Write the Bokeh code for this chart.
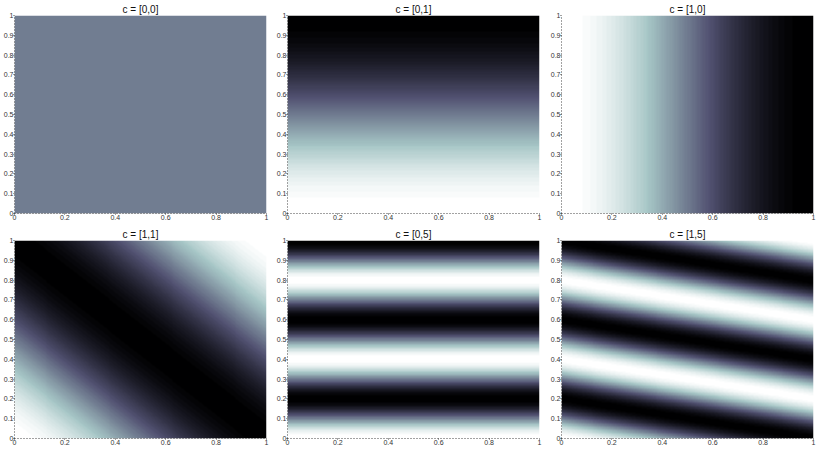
import numpy as np
from bokeh.plotting import figure
from bokeh.layouts import gridplot
from bokeh.models import LinearColorMapper, FixedTicker
from bokeh.embed import file_html
from bokeh.resources import INLINE

# ---- data ----
titles = ["c = [0,0]", "c = [0,1]", "c = [1,0]", "c = [1,1]", "c = [0,5]", "c = [1,5]"]
cx = [0, 0, 1, 1, 0, 1]
cy = [0, 1, 0, 1, 5, 5]
x_ticks = [0, 0.2, 0.4, 0.6, 0.8, 1]
x_labels = ["0", "0.2", "0.4", "0.6", "0.8", "1"]
y_ticks = [0, 0.1, 0.2, 0.3, 0.4, 0.5, 0.6, 0.7, 0.8, 0.9, 1]
y_labels = ["0", "0.1", "0.2", "0.3", "0.4", "0.5", "0.6", "0.7", "0.8", "0.9", "1"]
grid_n = 256


def bone_palette(m=64):
    n = int(3 * m / 8)
    cols = []
    for i in range(m):
        g = i / (m - 1)
        hr = (i + 1) / n if i < n else 1.0
        hg = 0.0 if i < n else ((i - n + 1) / n if i < 2 * n else 1.0)
        hb = 0.0 if i < 2 * n else (i - 2 * n + 1) / (m - 2 * n)
        r = (7 * g + hb) / 8
        gg = (7 * g + hg) / 8
        b = (7 * g + hr) / 8
        cols.append("#%02x%02x%02x" % (round(r * 255), round(gg * 255), round(b * 255)))
    return cols


palette = bone_palette(64)
xs = np.linspace(0, 1, grid_n)
X, Y = np.meshgrid(xs, xs)

left_b = [12, 12, 12]
right_b = [7, 8, 5]
top_b = [15, 14]
bot_b = [13, 12]

figs = []
for k in range(6):
    r, c = divmod(k, 3)
    Z = np.cos(np.pi * (cx[k] * X + cy[k] * Y))
    lo, hi = float(Z.min()), float(Z.max())
    if hi - lo < 1e-9:
        lo, hi = lo - 1, hi + 1
    mapper = LinearColorMapper(palette=palette, low=lo, high=hi)
    p = figure(frame_width=252, frame_height=198,
               x_range=(0, 1), y_range=(0, 1),
               min_border_left=left_b[c], min_border_right=right_b[c],
               min_border_top=top_b[r], min_border_bottom=bot_b[r],
               toolbar_location=None, output_backend="svg",
               title=titles[k])
    p.image(image=[Z], x=0, y=0, dw=1, dh=1, color_mapper=mapper)
    p.title.align = "center"
    p.title.text_font = "Liberation Sans"
    p.title.text_font_size = "10px"
    p.title.text_font_style = "normal"
    p.title.text_color = "#111111"
    p.title.standoff = 1
    p.outline_line_color = None
    p.grid.visible = False
    p.background_fill_color = "white"
    p.xaxis.ticker = FixedTicker(ticks=x_ticks)
    p.yaxis.ticker = FixedTicker(ticks=y_ticks)
    p.xaxis.major_label_overrides = {t: l for t, l in zip(x_ticks, x_labels)}
    p.yaxis.major_label_overrides = {t: l for t, l in zip(y_ticks, y_labels)}
    for ax in (p.xaxis, p.yaxis):
        ax.axis_line_dash = "1 2"
        ax.axis_line_color = "#444444"
        ax.axis_line_width = 1
        ax.major_tick_out = 1
        ax.major_tick_in = 0
        ax.major_tick_line_color = "#444444"
        ax.minor_tick_line_color = None
        ax.major_label_text_font = "Liberation Sans"
        ax.major_label_text_font_size = "7px"
        ax.major_label_text_color = "#333333"
        ax.major_label_standoff = 0
    figs.append(p)

layout = gridplot([figs[0:3], figs[3:6]], toolbar_location=None)

html = file_html(layout, INLINE)
html = html.replace("</head>", "<style>body{margin:0;}</style></head>", 1)
open("out.html", "w").write(html)
